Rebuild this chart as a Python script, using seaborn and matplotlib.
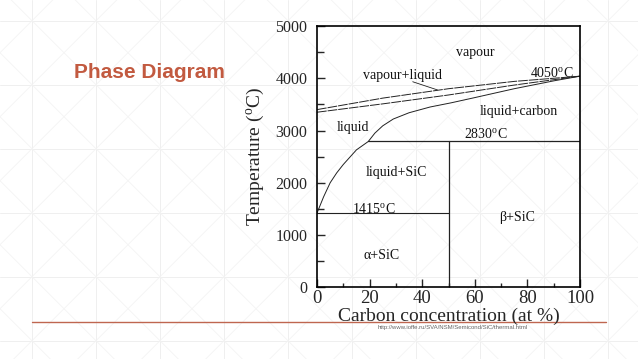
import numpy as np
import pandas as pd
import matplotlib.pyplot as plt
import seaborn as sns
from matplotlib.ticker import MultipleLocator
from matplotlib.lines import Line2D

# Si-C phase diagram boundaries (carbon at %, temperature in C)
liquidus_x = [0, 2.5, 5, 7.5, 10, 15, 19.5, 22, 25, 29, 35, 43, 51, 60, 75, 90, 100]
liquidus_t = [1420, 1730, 2000, 2190, 2350, 2630, 2790, 2950, 3090, 3220, 3340, 3450, 3530, 3630, 3800, 3950, 4040]
dew_x = [0, 25, 50, 75, 100]
dew_t = [3400, 3620, 3800, 3940, 4040]
boil_x = [0, 25, 50, 75, 100]
boil_t = [3350, 3510, 3680, 3870, 4040]
peritectic_t = 2790
eutectic_t = 1415
sic_x = 50

x_ticks = [0, 20, 40, 60, 80, 100]
y_ticks = [0, 1000, 2000, 3000, 4000, 5000]

sns.set_style("ticks")
plt.rcParams["font.family"] = ["Liberation Serif", "DejaVu Serif"]
plt.rcParams["mathtext.fontset"] = "custom"
plt.rcParams["mathtext.rm"] = "Liberation Serif"

W, H = 638, 359
fig = plt.figure(figsize=(W / 100, H / 100), dpi=100)
fig.patch.set_facecolor("white")

# faint slide background pattern
bg = fig.add_axes([0, 0, 1, 1], zorder=0)
bg.set_xlim(0, W)
bg.set_ylim(H, 0)
bg.axis("off")
for gx in np.arange(32, W, 64):
    bg.axvline(gx, color="#ececec", lw=0.6)
for gy in np.arange(20.7, H, 64):
    bg.axhline(gy, color="#ececec", lw=0.6)
for c in np.arange(11.3 - 64 * 8, W + 64, 64):
    bg.plot([c, c + 800], [0, 800], color="#f4f4f4", lw=0.6)
for c in np.arange(52.7, W + H + 64 * 2, 64):
    bg.plot([c, c - 800], [0, 800], color="#f4f4f4", lw=0.6)

ax = fig.add_axes([317 / W, 1 - 287.3 / H, 263 / W, 261.3 / H], zorder=2)
ax.set_facecolor("none")

ink = "#222222"
line_kw = dict(ax=ax, color=ink, estimator=None, sort=False)
sns.lineplot(x=liquidus_x, y=liquidus_t, lw=0.7, **line_kw)
sns.lineplot(x=dew_x, y=dew_t, lw=0.7, linestyle=(0, (10, 1)), **line_kw)
sns.lineplot(x=boil_x, y=boil_t, lw=0.7, linestyle=(0, (10, 1)), **line_kw)
sns.lineplot(x=[liquidus_x[6], 100], y=[peritectic_t, peritectic_t], lw=0.9, **line_kw)
sns.lineplot(x=[0, sic_x], y=[eutectic_t, eutectic_t], lw=0.8, **line_kw)
sns.lineplot(x=[sic_x, sic_x], y=[0, peritectic_t], lw=0.9, **line_kw)

ax.annotate("", xy=(46.8, 3760), xytext=(35.4, 3950),
            arrowprops=dict(arrowstyle="-", color=ink, lw=0.6))

fs = 10
labels = [
    ("vapour", 60.1, 4493),
    ("vapour+liquid", 32.6, 4057),
    ("4050$^{\\mathrm{o}}$C", 89.2, 4090),
    ("liquid+carbon", 76.7, 3372),
    ("liquid", 13.6, 3053),
    ("2830$^{\\mathrm{o}}$C", 64.3, 2915),
    ("liquid+SiC", 30.3, 2189),
    ("1415$^{\\mathrm{o}}$C", 21.7, 1480),
    ("\u03b2+SiC", 75.9, 1344),
    ("\u03b1+SiC", 24.6, 601),
]
for txt, lx, ly in labels:
    ax.text(lx, ly, txt, ha="center", va="center", fontsize=fs, color="#111111")

ax.set_xlim(0, 100)
ax.set_ylim(0, 5000)
ax.set_xticks(x_ticks)
ax.set_yticks(y_ticks)
ax.xaxis.set_minor_locator(MultipleLocator(10))
ax.yaxis.set_minor_locator(MultipleLocator(500))
ax.tick_params(axis="x", which="major", direction="in", length=6, width=1, labelsize=13.5, pad=2)
ax.tick_params(axis="x", which="minor", direction="in", length=3, width=1)
ax.tick_params(axis="y", which="major", direction="in", length=6, width=1, labelsize=11.5, pad=7)
ax.tick_params(axis="y", which="minor", direction="in", length=5, width=1)
for s in ax.spines.values():
    s.set_visible(True)
    s.set_linewidth(1.2)
    s.set_color("black")

ax.set_xlabel("Carbon concentration (at %)", fontsize=14, va="center")
ax.xaxis.set_label_coords(0.502, -0.112)
ax.set_ylabel("Temperature ($^{\\mathrm{o}}$C)", fontsize=14, va="center")
ax.yaxis.set_label_coords(-0.232, 0.5)

fig.text(74 / W, 1 - 72 / H, "Phase Diagram", ha="left", va="center",
         fontsize=15, fontweight="bold", color="#c25a40", family="Liberation Sans")
fig.add_artist(Line2D([32 / W, 606 / W], [1 - 322 / H, 1 - 322 / H],
                      color="#bf6650", lw=1.0))
fig.text(453 / W, 1 - 327 / H, "http://www.ioffe.ru/SVA/NSM/Semicond/SiC/thermal.html",
         ha="center", va="center", fontsize=4.3, color="#666666", family="Liberation Sans")

fig.savefig("out.png", dpi=100)
